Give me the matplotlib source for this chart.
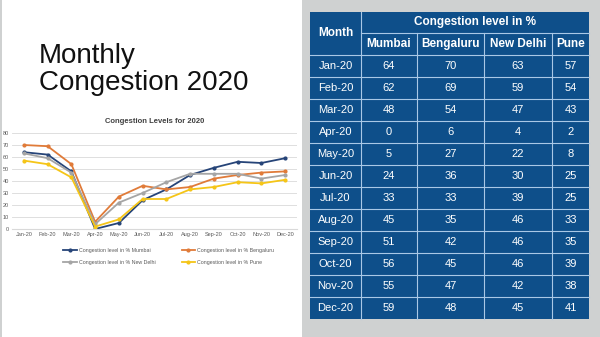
import matplotlib.pyplot as plt
from matplotlib.patches import Rectangle

plt.rcParams['font.family'] = ['Liberation Sans', 'DejaVu Sans']

months = ['Jan-20', 'Feb-20', 'Mar-20', 'Apr-20', 'May-20', 'Jun-20',
          'Jul-20', 'Aug-20', 'Sep-20', 'Oct-20', 'Nov-20', 'Dec-20']
cities = ['Mumbai', 'Bengaluru', 'New Delhi', 'Pune']
mumbai = [64, 62, 48, 0, 5, 24, 33, 45, 51, 56, 55, 59]
bengaluru = [70, 69, 54, 6, 27, 36, 33, 35, 42, 45, 47, 48]
new_delhi = [63, 59, 47, 4, 22, 30, 39, 46, 46, 46, 42, 45]
pune = [57, 54, 43, 2, 8, 25, 25, 33, 35, 39, 38, 41]
series = [mumbai, bengaluru, new_delhi, pune]
line_colors = ['#264478', '#e07b39', '#a5a5a5', '#f5c518']
yticks = [0, 10, 20, 30, 40, 50, 60, 70, 80]

W, H = 600, 337
fig = plt.figure(figsize=(6, 3.37), dpi=100)
fig.patch.set_facecolor('#cfd1d1')


def px_axes(x0, y0, x1, y1):
    # pixel box (top-left origin) -> figure axes
    return fig.add_axes([x0 / W, 1 - y1 / H, (x1 - x0) / W, (y1 - y0) / H])


# white slide panel on the left
bg = px_axes(2, 0, 302, 337)
bg.set_facecolor('white')
bg.set_xticks([])
bg.set_yticks([])
for s in bg.spines.values():
    s.set_visible(False)

fig.text(39 / W, 1 - 43 / H, 'Monthly\nCongestion 2020', fontsize=20,
         va='top', ha='left', color='#111111', linespacing=1.05)

# line chart
ax = px_axes(12, 133, 297, 229)
x = list(range(len(months)))
lines = []
for vals, c, city in zip(series, line_colors, cities):
    ln, = ax.plot(x, vals, color=c, lw=1.3, marker='o', ms=2,
                  label='Congestion level in % ' + city)
    lines.append(ln)
ax.set_xlim(-0.5, len(months) - 0.5)
ax.set_ylim(0, 80)
ax.set_yticks(yticks)
ax.set_xticks(x)
ax.set_xticklabels(months)
ax.tick_params(labelsize=4, colors='#595959', length=0, pad=2)
ax.grid(axis='y', color='#d9d9d9', lw=0.6)
ax.set_axisbelow(True)
for s in ['top', 'right', 'left']:
    ax.spines[s].set_visible(False)
ax.spines['bottom'].set_color('#d9d9d9')
ax.set_title('Congestion Levels for 2020', fontsize=5.5, fontweight='bold',
             color='#404040', pad=7)
# row-wise order: Mumbai, Bengaluru / New Delhi, Pune
order = [0, 2, 1, 3]
ax.legend([lines[i] for i in order], [lines[i].get_label() for i in order],
          loc='upper center', bbox_to_anchor=(0.55, -0.15), ncol=2,
          fontsize=3.8, frameon=False, handlelength=2.5, columnspacing=5,
          labelcolor='#595959', handletextpad=0.4, labelspacing=1.3)

# data table
col_edges = [310, 361, 417, 484, 552, 589]
top, h1, h2 = 12, 33, 55
row_h = 22
bottom = h2 + row_h * len(months)
tb = px_axes(0, 0, W, H)
tb.set_xlim(0, W)
tb.set_ylim(H, 0)
tb.axis('off')
tb.add_patch(Rectangle((col_edges[0], top), col_edges[-1] - col_edges[0],
                       bottom - top, facecolor='#0e4f8a', edgecolor='none'))
grid_c = '#a9c8e6'
# horizontal rules
tb.plot([col_edges[1], col_edges[-1]], [h1, h1], color=grid_c, lw=0.8)
for i in range(len(months)):
    y = h2 + row_h * i
    tb.plot([col_edges[0], col_edges[-1]], [y, y], color=grid_c, lw=0.8)
# vertical rules
tb.plot([col_edges[1]] * 2, [top, bottom], color=grid_c, lw=0.8)
for xe in col_edges[2:-1]:
    tb.plot([xe, xe], [h1, bottom], color=grid_c, lw=0.8)

tkw = dict(color='white', ha='center', va='center')
tb.text((col_edges[0] + col_edges[1]) / 2, (top + h2) / 2, 'Month',
        fontsize=8.5, fontweight='bold', **tkw)
tb.text((col_edges[1] + col_edges[-1]) / 2, (top + h1) / 2,
        'Congestion level in %', fontsize=8.5, fontweight='bold', **tkw)
for j, city in enumerate(cities):
    tb.text((col_edges[j + 1] + col_edges[j + 2]) / 2, (h1 + h2) / 2, city,
            fontsize=8.5, fontweight='bold', **tkw)
for i, m in enumerate(months):
    yc = h2 + row_h * (i + 0.5)
    tb.text((col_edges[0] + col_edges[1]) / 2, yc, m, fontsize=8, **tkw)
    for j, vals in enumerate(series):
        tb.text((col_edges[j + 1] + col_edges[j + 2]) / 2, yc, str(vals[i]),
                fontsize=8, **tkw)

fig.savefig('out.png', dpi=100)
